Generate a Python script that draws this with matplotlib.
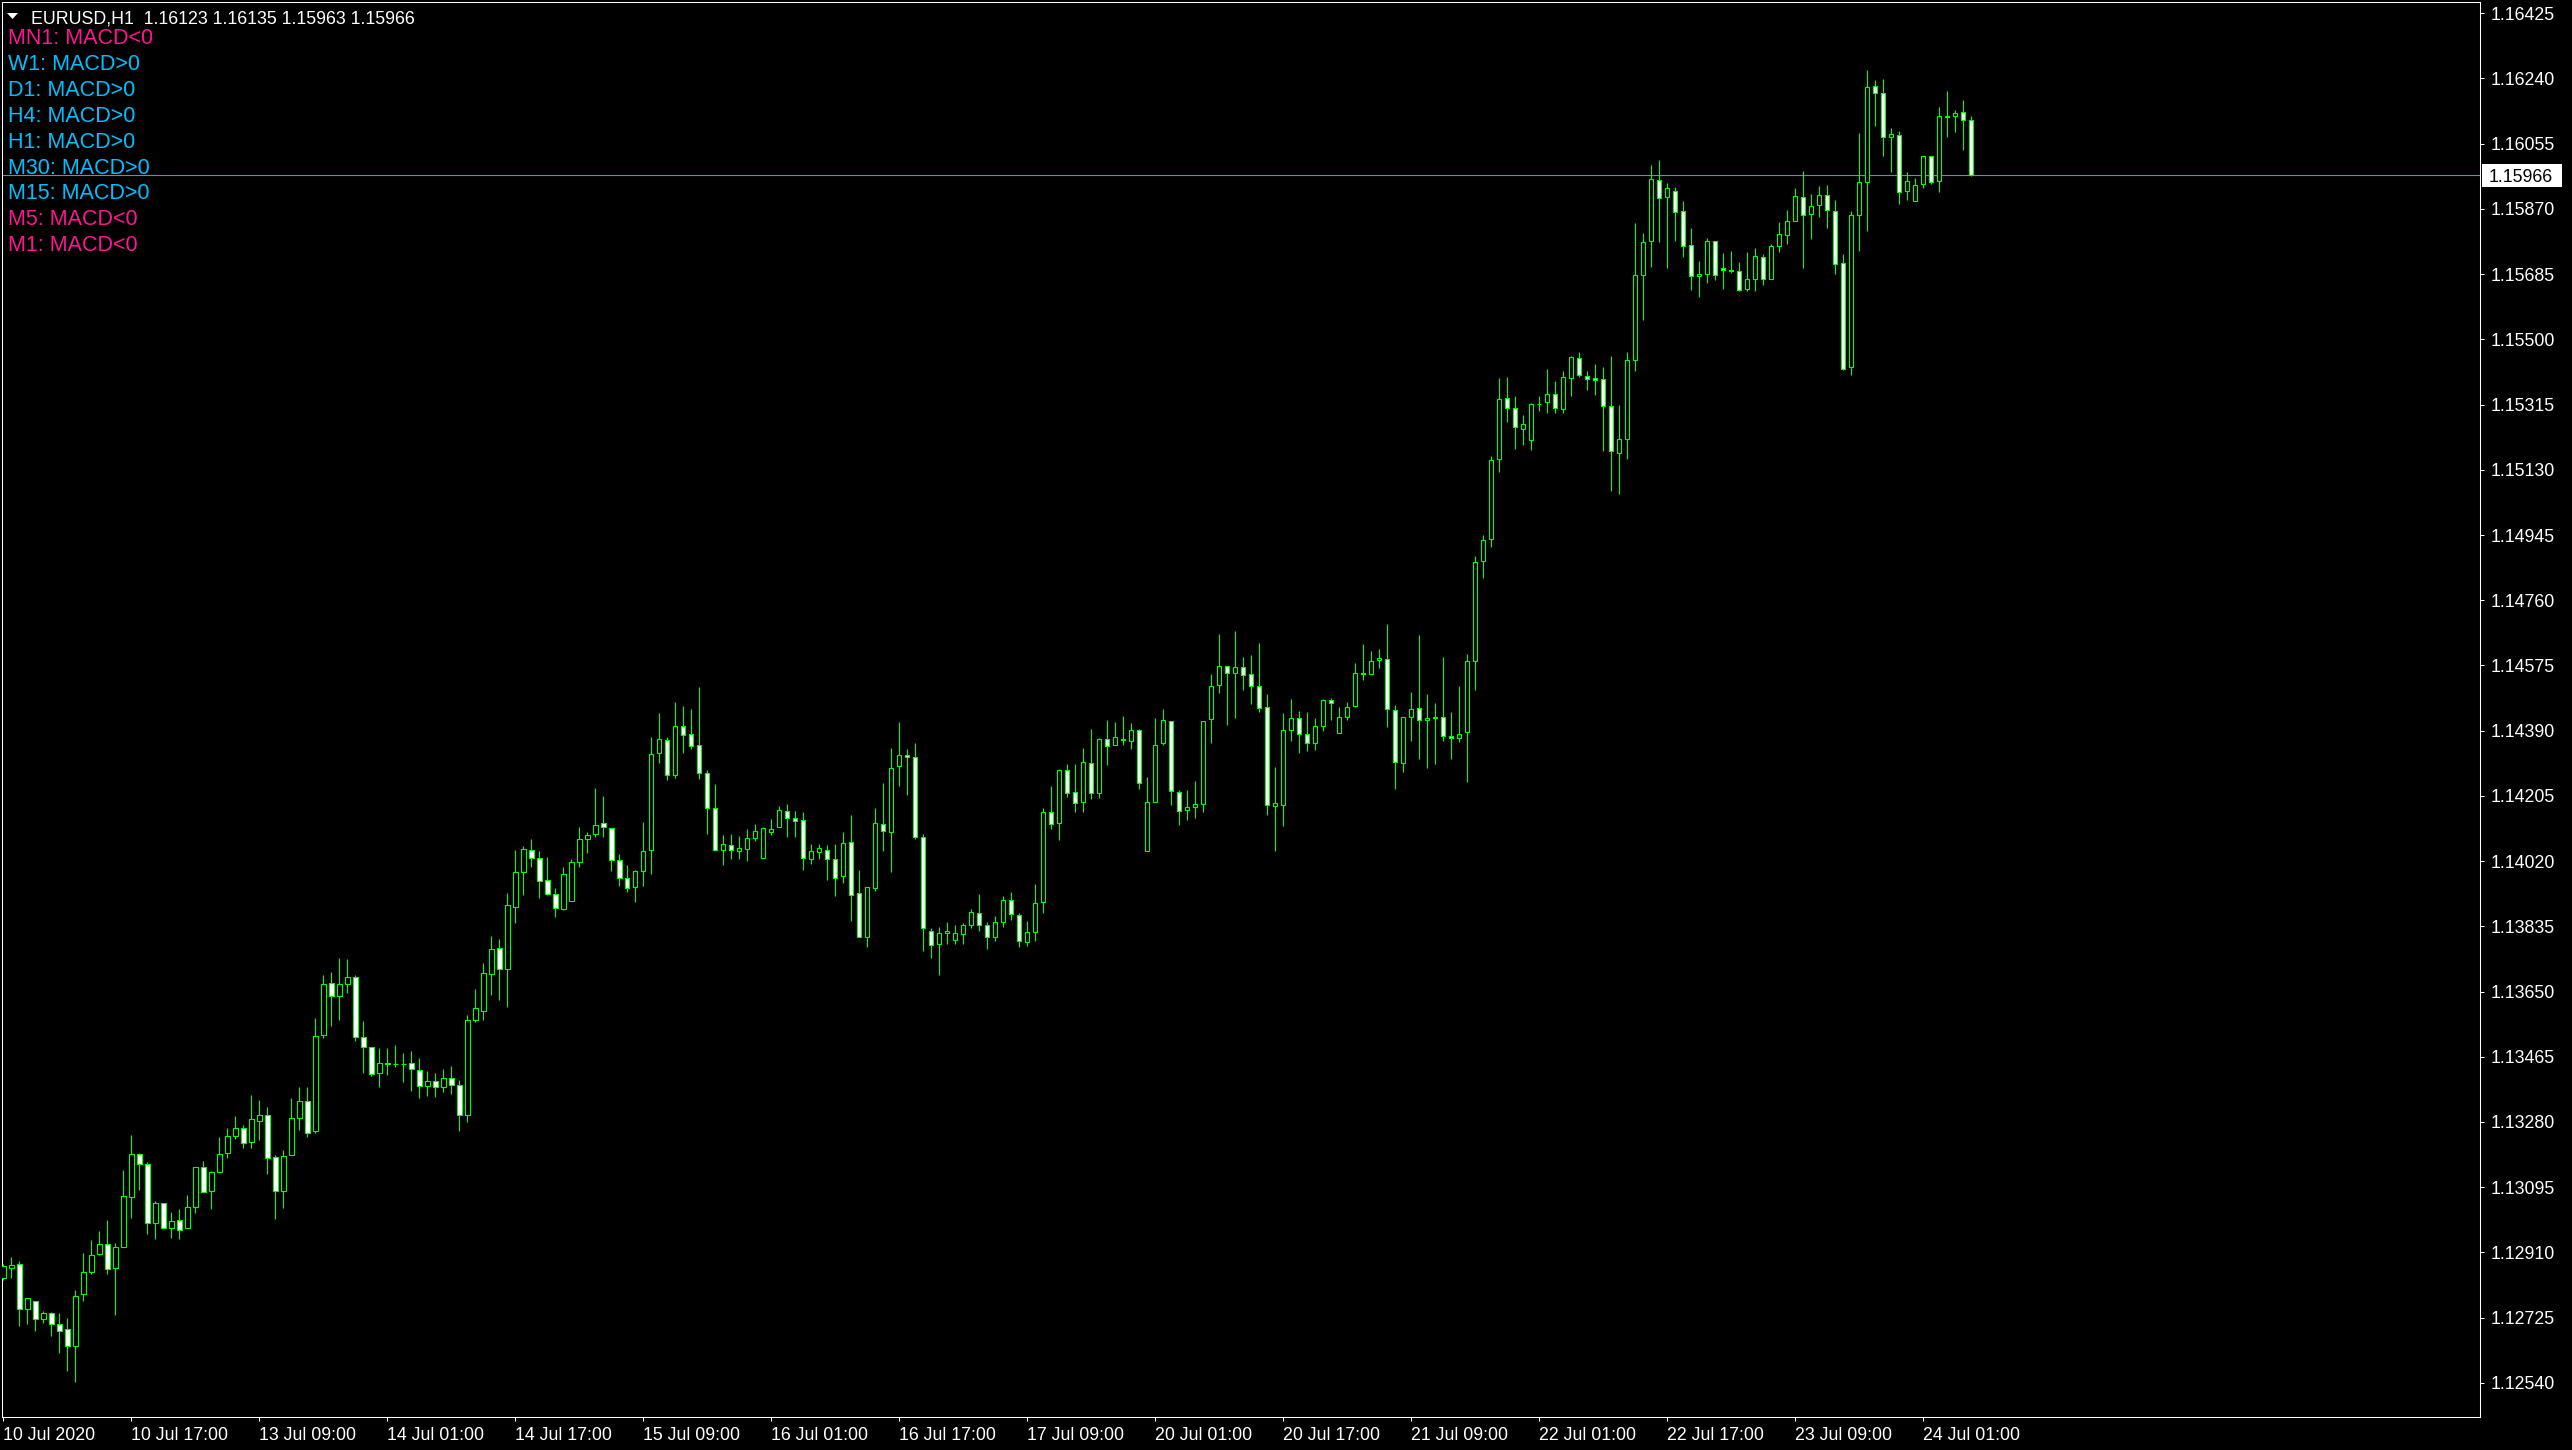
import numpy as np
import matplotlib
matplotlib.use('Agg')
import matplotlib.pyplot as plt
import matplotlib.patches as patches
from matplotlib.transforms import IdentityTransform

plt.rcParams['font.family'] = ['Liberation Sans', 'DejaVu Sans']

# EURUSD H1, 10 Jul 2020 01:00 .. 24 Jul 2020 07:00
opens = [
    1.12838, 1.12867, 1.12876, 1.12748, 1.12773, 1.12720, 1.12737, 1.12706, 1.12692, 1.12643,
    1.12791, 1.12853, 1.12904, 1.12933, 1.12867, 1.12924, 1.13066, 1.13188, 1.13162, 1.12993,
    1.13049, 1.12979, 1.13001, 1.12978, 1.13038, 1.13151, 1.13083, 1.13137, 1.13191, 1.13239,
    1.13264, 1.13222, 1.13284, 1.13301, 1.13180, 1.13083, 1.13185, 1.13290, 1.13338, 1.13253,
    1.13528, 1.13673, 1.13636, 1.13670, 1.13690, 1.13520, 1.13492, 1.13418, 1.13446, 1.13444,
    1.13444, 1.13446, 1.13427, 1.13381, 1.13395, 1.13380, 1.13405, 1.13385, 1.13300, 1.13569,
    1.13596, 1.13699, 1.13773, 1.13715, 1.13891, 1.13988, 1.14051, 1.14028, 1.13966, 1.13926,
    1.13883, 1.13908, 1.14017, 1.14082, 1.14096, 1.14127, 1.14113, 1.14022, 1.13971, 1.13946,
    1.13991, 1.14051, 1.14326, 1.14363, 1.14263, 1.14402, 1.14380, 1.14348, 1.14269, 1.14170,
    1.14051, 1.14065, 1.14048, 1.14053, 1.14085, 1.14028, 1.14102, 1.14116, 1.14161, 1.14141,
    1.14136, 1.14025, 1.14045, 1.14051, 1.14025, 1.13977, 1.14073, 1.13929, 1.13806, 1.13943,
    1.14124, 1.14102, 1.14289, 1.14320, 1.14314, 1.14087, 1.13821, 1.13784, 1.13815, 1.13795,
    1.13812, 1.13840, 1.13872, 1.13840, 1.13806, 1.13846, 1.13909, 1.13866, 1.13790, 1.13818,
    1.13903, 1.14158, 1.14127, 1.14278, 1.14215, 1.14187, 1.14297, 1.14212, 1.14365, 1.14348,
    1.14367, 1.14360, 1.14391, 1.14050, 1.14187, 1.14354, 1.14417, 1.14215, 1.14164, 1.14172,
    1.14181, 1.14422, 1.14519, 1.14573, 1.14553, 1.14570, 1.14550, 1.14516, 1.14456, 1.14175,
    1.14178, 1.14391, 1.14425, 1.14380, 1.14354, 1.14402, 1.14476, 1.14382, 1.14428, 1.14459,
    1.14553, 1.14550, 1.14590, 1.14592, 1.14448, 1.14297, 1.14428, 1.14453, 1.14419, 1.14427,
    1.14430, 1.14374, 1.14368, 1.14385, 1.14587, 1.14871, 1.14933, 1.15160, 1.15333, 1.15305,
    1.15247, 1.15214, 1.15316, 1.15322, 1.15344, 1.15302, 1.15390, 1.15446, 1.15395, 1.15390,
    1.15387, 1.15310, 1.15179, 1.15217, 1.15441, 1.15682, 1.15778, 1.15951, 1.15903, 1.15920,
    1.15863, 1.15767, 1.15679, 1.15685, 1.15778, 1.15702, 1.15696, 1.15693, 1.15642, 1.15670,
    1.15733, 1.15670, 1.15764, 1.15795, 1.15835, 1.15903, 1.15855, 1.15880, 1.15909, 1.15863,
    1.15716, 1.15421, 1.15852, 1.15946, 1.16218, 1.16198, 1.16073, 1.16079, 1.15920, 1.15892,
    1.15940, 1.16019, 1.15948, 1.16133, 1.16133, 1.16144, 1.16123,
]
highs = [
    1.12877, 1.12897, 1.12885, 1.12780, 1.12773, 1.12744, 1.12741, 1.12738, 1.12724, 1.12803,
    1.12908, 1.12945, 1.12971, 1.13002, 1.12937, 1.13144, 1.13243, 1.13193, 1.13165, 1.13056,
    1.13049, 1.13024, 1.13033, 1.13073, 1.13151, 1.13169, 1.13141, 1.13237, 1.13262, 1.13296,
    1.13270, 1.13356, 1.13342, 1.13321, 1.13185, 1.13200, 1.13347, 1.13378, 1.13378, 1.13574,
    1.13696, 1.13704, 1.13744, 1.13741, 1.13696, 1.13565, 1.13494, 1.13489, 1.13489, 1.13497,
    1.13475, 1.13480, 1.13461, 1.13425, 1.13420, 1.13430, 1.13440, 1.13400, 1.13584, 1.13657,
    1.13731, 1.13808, 1.13799, 1.13929, 1.14052, 1.14063, 1.14083, 1.14049, 1.14032, 1.13944,
    1.14003, 1.14025, 1.14117, 1.14103, 1.14227, 1.14205, 1.14113, 1.14040, 1.14009, 1.13994,
    1.14131, 1.14372, 1.14440, 1.14372, 1.14471, 1.14460, 1.14452, 1.14514, 1.14279, 1.14239,
    1.14094, 1.14097, 1.14091, 1.14111, 1.14125, 1.14117, 1.14140, 1.14176, 1.14182, 1.14162,
    1.14158, 1.14069, 1.14069, 1.14065, 1.14068, 1.14102, 1.14151, 1.13995, 1.13946, 1.14170,
    1.14242, 1.14341, 1.14415, 1.14338, 1.14354, 1.14096, 1.13829, 1.13832, 1.13846, 1.13838,
    1.13843, 1.13883, 1.13926, 1.13846, 1.13863, 1.13920, 1.13932, 1.13872, 1.13849, 1.13954,
    1.14170, 1.14232, 1.14280, 1.14295, 1.14295, 1.14340, 1.14394, 1.14368, 1.14419, 1.14414,
    1.14431, 1.14411, 1.14394, 1.14258, 1.14425, 1.14451, 1.14417, 1.14221, 1.14221, 1.14246,
    1.14417, 1.14550, 1.14663, 1.14573, 1.14672, 1.14598, 1.14604, 1.14638, 1.14493, 1.14287,
    1.14439, 1.14480, 1.14446, 1.14443, 1.14426, 1.14480, 1.14483, 1.14457, 1.14471, 1.14582,
    1.14636, 1.14616, 1.14622, 1.14693, 1.14462, 1.14430, 1.14500, 1.14661, 1.14494, 1.14469,
    1.14599, 1.14443, 1.14517, 1.14608, 1.14885, 1.14944, 1.15168, 1.15390, 1.15392, 1.15339,
    1.15285, 1.15319, 1.15339, 1.15416, 1.15382, 1.15410, 1.15452, 1.15463, 1.15410, 1.15431,
    1.15422, 1.15453, 1.15313, 1.15463, 1.15830, 1.15801, 1.15994, 1.16008, 1.15943, 1.15931,
    1.15892, 1.15815, 1.15722, 1.15787, 1.15778, 1.15744, 1.15750, 1.15720, 1.15747, 1.15758,
    1.15741, 1.15770, 1.15832, 1.15866, 1.15929, 1.15977, 1.15912, 1.15934, 1.15937, 1.15895,
    1.15741, 1.15863, 1.16085, 1.16264, 1.16235, 1.16238, 1.16099, 1.16090, 1.15974, 1.15957,
    1.16019, 1.16019, 1.16159, 1.16204, 1.16150, 1.16178, 1.16135,
]
lows = [
    1.12832, 1.12838, 1.12702, 1.12706, 1.12688, 1.12709, 1.12674, 1.12625, 1.12574, 1.12543,
    1.12773, 1.12850, 1.12902, 1.12848, 1.12731, 1.12924, 1.13008, 1.13088, 1.12963, 1.12947,
    1.12979, 1.12950, 1.12947, 1.12978, 1.13023, 1.13081, 1.13032, 1.13137, 1.13179, 1.13233,
    1.13205, 1.13207, 1.13229, 1.13131, 1.13004, 1.13035, 1.13185, 1.13256, 1.13236, 1.13248,
    1.13517, 1.13551, 1.13570, 1.13645, 1.13509, 1.13420, 1.13410, 1.13378, 1.13412, 1.13437,
    1.13394, 1.13369, 1.13347, 1.13355, 1.13350, 1.13365, 1.13360, 1.13255, 1.13280, 1.13564,
    1.13569, 1.13641, 1.13627, 1.13607, 1.13845, 1.13925, 1.14004, 1.13916, 1.13925, 1.13862,
    1.13880, 1.13908, 1.14004, 1.14044, 1.14087, 1.14087, 1.13993, 1.13948, 1.13933, 1.13905,
    1.13950, 1.13982, 1.14299, 1.14251, 1.14257, 1.14328, 1.14339, 1.14254, 1.14098, 1.14051,
    1.14010, 1.14027, 1.14027, 1.14021, 1.14076, 1.14028, 1.14093, 1.14116, 1.14087, 1.14087,
    1.13996, 1.14013, 1.14025, 1.13967, 1.13922, 1.13959, 1.13851, 1.13804, 1.13777, 1.13936,
    1.14050, 1.13990, 1.14234, 1.14208, 1.14082, 1.13766, 1.13746, 1.13698, 1.13784, 1.13784,
    1.13784, 1.13829, 1.13821, 1.13770, 1.13792, 1.13832, 1.13852, 1.13775, 1.13778, 1.13792,
    1.13872, 1.14110, 1.14080, 1.14201, 1.14158, 1.14158, 1.14195, 1.14198, 1.14292, 1.14348,
    1.14348, 1.14337, 1.14224, 1.14050, 1.14187, 1.14348, 1.14178, 1.14121, 1.14136, 1.14141,
    1.14158, 1.14354, 1.14496, 1.14405, 1.14425, 1.14504, 1.14465, 1.14444, 1.14152, 1.14050,
    1.14120, 1.14360, 1.14328, 1.14331, 1.14336, 1.14388, 1.14421, 1.14382, 1.14419, 1.14456,
    1.14535, 1.14550, 1.14567, 1.14399, 1.14224, 1.14272, 1.14360, 1.14309, 1.14283, 1.14294,
    1.14360, 1.14309, 1.14357, 1.14245, 1.14506, 1.14822, 1.14910, 1.15123, 1.15265, 1.15188,
    1.15199, 1.15187, 1.15298, 1.15290, 1.15290, 1.15290, 1.15338, 1.15392, 1.15355, 1.15343,
    1.15184, 1.15071, 1.15062, 1.15162, 1.15411, 1.15556, 1.15705, 1.15775, 1.15702, 1.15778,
    1.15733, 1.15639, 1.15621, 1.15660, 1.15668, 1.15644, 1.15688, 1.15636, 1.15636, 1.15636,
    1.15653, 1.15670, 1.15747, 1.15770, 1.15835, 1.15702, 1.15784, 1.15846, 1.15815, 1.15685,
    1.15412, 1.15398, 1.15750, 1.15807, 1.16104, 1.16021, 1.15974, 1.15883, 1.15895, 1.15892,
    1.15929, 1.15940, 1.15917, 1.16075, 1.16089, 1.16038, 1.15963,
]
closes = [
    1.12871, 1.12873, 1.12748, 1.12780, 1.12720, 1.12737, 1.12706, 1.12686, 1.12643, 1.12785,
    1.12853, 1.12902, 1.12933, 1.12862, 1.12924, 1.13069, 1.13188, 1.13162, 1.12993, 1.13049,
    1.12979, 1.12998, 1.12973, 1.13038, 1.13151, 1.13081, 1.13137, 1.13188, 1.13239, 1.13262,
    1.13219, 1.13287, 1.13301, 1.13177, 1.13083, 1.13182, 1.13290, 1.13338, 1.13250, 1.13525,
    1.13670, 1.13636, 1.13670, 1.13690, 1.13520, 1.13492, 1.13415, 1.13446, 1.13444, 1.13444,
    1.13444, 1.13429, 1.13381, 1.13395, 1.13380, 1.13405, 1.13385, 1.13300, 1.13569, 1.13602,
    1.13702, 1.13770, 1.13713, 1.13895, 1.13988, 1.14053, 1.14028, 1.13963, 1.13928, 1.13886,
    1.13983, 1.14017, 1.14082, 1.14093, 1.14122, 1.14116, 1.14022, 1.13971, 1.13945, 1.13991,
    1.14048, 1.14323, 1.14366, 1.14263, 1.14402, 1.14377, 1.14346, 1.14269, 1.14170, 1.14051,
    1.14068, 1.14051, 1.14056, 1.14085, 1.14104, 1.14113, 1.14110, 1.14164, 1.14141, 1.14133,
    1.14028, 1.14048, 1.14056, 1.14025, 1.13971, 1.14070, 1.13923, 1.13804, 1.13946, 1.14127,
    1.14104, 1.14283, 1.14320, 1.14316, 1.14087, 1.13829, 1.13781, 1.13815, 1.13823, 1.13815,
    1.13840, 1.13875, 1.13840, 1.13806, 1.13846, 1.13911, 1.13869, 1.13792, 1.13818, 1.13900,
    1.14158, 1.14124, 1.14278, 1.14212, 1.14184, 1.14300, 1.14212, 1.14365, 1.14346, 1.14371,
    1.14364, 1.14391, 1.14241, 1.14187, 1.14348, 1.14419, 1.14218, 1.14161, 1.14172, 1.14181,
    1.14417, 1.14516, 1.14573, 1.14553, 1.14570, 1.14547, 1.14516, 1.14453, 1.14178, 1.14184,
    1.14391, 1.14425, 1.14380, 1.14354, 1.14402, 1.14476, 1.14468, 1.14428, 1.14456, 1.14553,
    1.14550, 1.14587, 1.14595, 1.14451, 1.14300, 1.14430, 1.14451, 1.14419, 1.14427, 1.14430,
    1.14374, 1.14368, 1.14380, 1.14587, 1.14868, 1.14930, 1.15157, 1.15330, 1.15305, 1.15251,
    1.15259, 1.15316, 1.15316, 1.15344, 1.15305, 1.15392, 1.15449, 1.15398, 1.15387, 1.15384,
    1.15310, 1.15182, 1.15217, 1.15441, 1.15682, 1.15775, 1.15954, 1.15900, 1.15929, 1.15861,
    1.15764, 1.15679, 1.15685, 1.15778, 1.15682, 1.15696, 1.15694, 1.15639, 1.15670, 1.15736,
    1.15670, 1.15764, 1.15798, 1.15835, 1.15906, 1.15852, 1.15878, 1.15909, 1.15866, 1.15713,
    1.15415, 1.15852, 1.15946, 1.16215, 1.16198, 1.16073, 1.16082, 1.15917, 1.15948, 1.15937,
    1.16019, 1.15946, 1.16133, 1.16131, 1.16141, 1.16122, 1.15966,
]

price_ticks = [1.16425, 1.16240, 1.16055, 1.15870, 1.15685, 1.15500, 1.15315, 1.15130,
               1.14945, 1.14760, 1.14575, 1.14390, 1.14205, 1.14020, 1.13835, 1.13650,
               1.13465, 1.13280, 1.13095, 1.12910, 1.12725, 1.12540]
tick_bars = [0, 16, 32, 48, 64, 80, 96, 112, 128, 144, 160, 176, 192, 208, 224, 240]
time_labels = ['10 Jul 2020', '10 Jul 17:00', '13 Jul 09:00', '14 Jul 01:00',
               '14 Jul 17:00', '15 Jul 09:00', '16 Jul 01:00', '16 Jul 17:00',
               '17 Jul 09:00', '20 Jul 01:00', '20 Jul 17:00', '21 Jul 09:00',
               '22 Jul 01:00', '22 Jul 17:00', '23 Jul 09:00', '24 Jul 01:00']
macd_frames = ['MN1', 'W1', 'D1', 'H4', 'H1', 'M30', 'M15', 'M5', 'M1']
macd_signs = ['<', '>', '>', '>', '>', '>', '>', '<', '<']

W, H = 2572, 1450
fig = plt.figure(figsize=(W / 100, H / 100), dpi=100, facecolor='black')
ax = fig.add_axes([2 / W, 1 - 1417 / H, 2478 / W, 1415 / H])
ax.set_facecolor('black')

o = np.array(opens)
h = np.array(highs)
l = np.array(lows)
c = np.array(closes)
x = np.arange(len(c))
body_col = np.where(c >= o, 'black', 'white')

green = '#00ff00'
ax.vlines(x, l, h, color=green, lw=0.8, zorder=2)
ax.bar(x, c - o, bottom=o, width=0.56, color=body_col, edgecolor=green,
       linewidth=0.8, zorder=3)

ax.set_xlim(-0.16, 309.6)
ax.set_ylim(1.12443, 1.16457)

# current price line
ax.axhline(c[-1], color='#778899', lw=0.8, zorder=1)

ax.yaxis.tick_right()
ax.set_yticks(price_ticks)
ax.set_yticklabels([f'{p:.5f}' for p in price_ticks])
ax.set_xticks(tick_bars)
ax.set_xticklabels(time_labels)
for lab in ax.get_xticklabels():
    lab.set_ha('left')
ax.tick_params(axis='y', colors='white', labelsize=12.8, length=3, width=0.75,
               direction='out', pad=5)
ax.tick_params(axis='x', colors='white', labelsize=12.8, length=3, width=0.75,
               direction='out', pad=4)
for s in ax.spines.values():
    s.set_color('white')
    s.set_linewidth(0.75)

# price box on the right axis
y_pix = ax.transData.transform((0, c[-1]))[1]
fig.add_artist(patches.Rectangle((2482, y_pix - 11.5), 80, 23, facecolor='white',
                                 edgecolor='none', transform=IdentityTransform(),
                                 zorder=5))
fig.text(2489 / W, y_pix / H, f'{c[-1]:.5f}', color='black', fontsize=12.8,
         ha='left', va='center_baseline', zorder=6)

# title line
fig.add_artist(patches.Polygon([(7, H - 13), (18, H - 13), (12.5, H - 19)], closed=True,
                               facecolor='white', edgecolor='none',
                               transform=IdentityTransform()))
title = f'EURUSD,H1  {o[-1]:.5f} {h[-1]:.5f} {l[-1]:.5f} {c[-1]:.5f}'
fig.text(31 / W, 1 - 17 / H, title, color='white', fontsize=12.8, ha='left',
         va='center_baseline')

# MACD status labels
for k, (tf, sg) in enumerate(zip(macd_frames, macd_signs)):
    col = '#00bfff' if sg == '>' else '#ff1493'
    fig.text(8 / W, 1 - (36 + 25.9 * k) / H, f'{tf}: MACD{sg}0', color=col,
             fontsize=15.5, ha='left', va='center_baseline')

fig.savefig('out.png', dpi=100, facecolor='black')
